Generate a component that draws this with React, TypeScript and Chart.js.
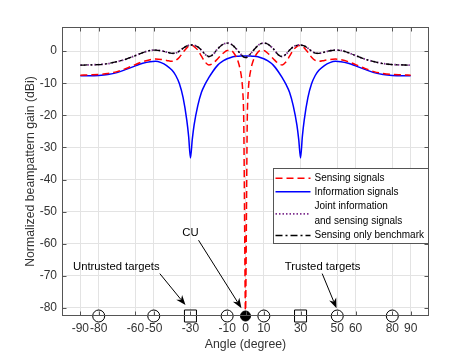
import React, { useEffect, useRef } from "react";
import { Chart, registerables } from "chart.js";

Chart.register(...registerables);

// ---------------- data ----------------
const angleDeg = [
  -90, -85, -80, -75, -70, -65, -60, -56, -52, -49, -46, -43, -40, -38, -36, -34, -32, -31, -30, -29,
  -28, -26, -24, -22, -20, -18, -15, -12, -10, -8, -6, -4, -3, -2, -1.5, -1, -0.8, -0.6, -0.4, -0.2,
  0,
  0.2, 0.4, 0.6, 0.8, 1, 1.5, 2, 3, 4, 6, 8, 10, 12, 15, 18, 20, 22, 24, 26, 28,
  29, 30, 31, 32, 34, 36, 38, 40, 43, 46, 49, 52, 56, 60, 65, 70, 75, 80, 85, 90,
];

const sensingGain = [
  -7.5, -7.4, -7.3, -7.0, -6.4, -5.4, -4.2, -3.3, -2.7, -2.5, -2.6, -2.9, -3.2, -2.9, -1.9, -0.4, 1.0, 1.5, 1.7, 1.7,
  1.4, 0.3, -1.6, -3.4, -4.3, -3.9, -2.3, -0.6, 0.2, 0.2, -0.9, -3.3, -5.5, -9, -12.5, -20, -30, -45, -60, -75,
  -82.5,
  -75, -60, -45, -30, -20, -12.5, -9, -5.5, -3.3, -0.9, 0.2, 0.2, -0.6, -2.3, -3.9, -4.3, -3.4, -1.6, 0.3, 1.4,
  1.7, 1.7, 1.5, 1.0, -0.4, -1.9, -2.9, -3.2, -2.9, -2.6, -2.5, -2.7, -3.3, -4.2, -5.4, -6.4, -7.0, -7.3, -7.4, -7.5,
];

const informationGain = [
  -7.7, -7.7, -7.6, -7.3, -6.7, -5.7, -4.6, -3.8, -3.3, -3.2, -3.6, -4.5, -6.0, -7.6, -10.2, -14.5, -21.5, -26.5, -33.3, -27.5,
  -23, -17, -12.8, -10.3, -8.3, -6.5, -4.3, -3.0, -2.4, -2.0, -1.7, -1.6, -1.55, -1.5, -1.5, -1.5, -1.5, -1.5, -1.5, -1.5,
  -1.5,
  -1.5, -1.5, -1.5, -1.5, -1.5, -1.5, -1.5, -1.55, -1.6, -1.7, -2.0, -2.4, -3.0, -4.3, -6.5, -8.3, -10.3, -12.8, -17, -23,
  -27.5, -33.3, -26.5, -21.5, -14.5, -10.2, -7.6, -6.0, -4.5, -3.6, -3.2, -3.3, -3.8, -4.6, -5.7, -6.7, -7.3, -7.6, -7.7, -7.7,
];

const jointGain = [
  -4.4, -4.3, -4.2, -3.9, -3.3, -2.5, -1.4, -0.5, 0.2, 0.3, 0.1, -0.3, -0.7, -0.6, 0.0, 0.9, 1.6, 1.8, 1.9, 1.9,
  1.8, 1.3, 0.3, -1.0, -1.7, -1.2, 0.8, 2.2, 2.5, 2.2, 1.3, 0.0, -0.7, -1.3, -1.6, -1.8, -1.9, -1.9, -2.0, -2.0,
  -2.0,
  -2.0, -2.0, -1.9, -1.9, -1.8, -1.6, -1.3, -0.7, 0.0, 1.3, 2.2, 2.5, 2.2, 0.8, -1.2, -1.7, -1.0, 0.3, 1.3, 1.8,
  1.9, 1.9, 1.8, 1.6, 0.9, 0.0, -0.6, -0.7, -0.3, 0.1, 0.3, 0.2, -0.5, -1.4, -2.5, -3.3, -3.9, -4.2, -4.3, -4.4,
];

const benchmarkGain = [
  -4.4, -4.3, -4.2, -3.9, -3.3, -2.5, -1.4, -0.5, 0.2, 0.3, 0.1, -0.3, -0.7, -0.6, 0.0, 0.9, 1.6, 1.8, 1.9, 1.9,
  1.8, 1.3, 0.3, -1.0, -1.7, -1.2, 0.8, 2.2, 2.5, 2.2, 1.3, 0.0, -0.7, -1.3, -1.6, -1.8, -1.9, -1.9, -2.0, -2.0,
  -2.0,
  -2.0, -2.0, -1.9, -1.9, -1.8, -1.6, -1.3, -0.7, 0.0, 1.3, 2.2, 2.5, 2.2, 0.8, -1.2, -1.7, -1.0, 0.3, 1.3, 1.8,
  1.9, 1.9, 1.8, 1.6, 0.9, 0.0, -0.6, -0.7, -0.3, 0.1, 0.3, 0.2, -0.5, -1.4, -2.5, -3.3, -3.9, -4.2, -4.3, -4.4,
];

const trustedTargetAngles = [-80, -50, -10, 10, 50, 80];
const untrustedTargetAngles = [-30, 30];
const cuAngles = [0];

const xTickValues = [-90, -80, -60, -50, -30, -10, 0, 10, 30, 50, 60, 80, 90];
const yTickValues = [-80, -70, -60, -50, -40, -30, -20, -10, 0];

const X_MIN = -100;
const X_MAX = 100;
const Y_MIN = -82.5;
const Y_MAX = 7.5;

const annotationTexts = ["CU", "Untrusted targets", "Trusted targets"];
const annotationTextPos = [
  [-30, -56.7],
  [-70.4, -67.3],
  [42, -67.3],
];
const annotationArrows = [
  [-25.6, -58.9, -2.2, -80.1],
  [-46.7, -69.3, -32.7, -79.1],
  [41.8, -69.3, 49.6, -80.1],
];

// ---------------- styles ----------------
const FONT = "'Liberation Sans', Arial, Helvetica, sans-serif";
const AXIS_COLOR = "#555555";
const TICK_TEXT = "#333333";
const GRID_COLOR = "#e3e3e3";

const W = 474;
const H = 355;

function drawArrow(ctx: CanvasRenderingContext2D, x1: number, y1: number, x2: number, y2: number) {
  const ang = Math.atan2(y2 - y1, x2 - x1);
  const len = 10;
  const half = 3.8;
  const back = 7;
  ctx.beginPath();
  ctx.moveTo(x1, y1);
  ctx.lineTo(x2 - Math.cos(ang) * back, y2 - Math.sin(ang) * back);
  ctx.stroke();
  const bx = x2 - Math.cos(ang) * len;
  const by = y2 - Math.sin(ang) * len;
  const nx = -Math.sin(ang);
  const ny = Math.cos(ang);
  ctx.beginPath();
  ctx.moveTo(x2, y2);
  ctx.lineTo(bx + nx * half, by + ny * half);
  ctx.lineTo(x2 - Math.cos(ang) * back, y2 - Math.sin(ang) * back);
  ctx.lineTo(bx - nx * half, by - ny * half);
  ctx.closePath();
  ctx.fill();
}

const matlabPlugin = {
  id: "matlabDecor",
  afterDatasetsDraw(chart: any) {
    const { ctx, chartArea: a } = chart;
    const xs = chart.scales.x;
    const ys = chart.scales.y;
    ctx.save();

    // box + inward ticks
    ctx.strokeStyle = AXIS_COLOR;
    ctx.lineWidth = 1;
    ctx.setLineDash([]);
    const L = Math.round(a.left) + 0.5;
    const R = Math.round(a.right) - 0.5;
    const T = Math.round(a.top) + 0.5;
    const B = Math.round(a.bottom) - 0.5;
    ctx.strokeRect(L, T, R - L, B - T);
    ctx.beginPath();
    for (const v of xTickValues) {
      const px = Math.round(xs.getPixelForValue(v)) + 0.5;
      ctx.moveTo(px, B);
      ctx.lineTo(px, B - 4);
      ctx.moveTo(px, T);
      ctx.lineTo(px, T + 4);
    }
    for (const v of yTickValues) {
      const py = Math.round(ys.getPixelForValue(v)) + 0.5;
      ctx.moveTo(L, py);
      ctx.lineTo(L + 4, py);
      ctx.moveTo(R, py);
      ctx.lineTo(R - 4, py);
    }
    ctx.stroke();

    // legend
    const lw = 155;
    const lh = 75;
    const lx = Math.round(a.right) - lw - 0.5;
    const ly = Math.round(a.top) + 141 + 0.5;
    ctx.fillStyle = "#ffffff";
    ctx.fillRect(lx, ly, lw, lh);
    ctx.strokeStyle = AXIS_COLOR;
    ctx.lineWidth = 1;
    ctx.strokeRect(lx, ly, lw, lh);
    const rows = [
      { ds: 0, lines: ["Sensing signals"], ys: [9.7], sy: 9.7 },
      { ds: 1, lines: ["Information signals"], ys: [23.3], sy: 23.3 },
      { ds: 2, lines: ["Joint information", "and sensing signals"], ys: [38, 52.3], sy: 45.3 },
      { ds: 3, lines: ["Sensing only benchmark"], ys: [67], sy: 67 },
    ];
    ctx.font = `10px ${FONT}`;
    ctx.textBaseline = "middle";
    ctx.textAlign = "left";
    for (const r of rows) {
      const ds = chart.data.datasets[r.ds];
      ctx.strokeStyle = ds.borderColor;
      ctx.lineWidth = ds.borderWidth;
      ctx.setLineDash(ds.borderDash || []);
      ctx.beginPath();
      ctx.moveTo(lx + 2, ly + r.sy);
      ctx.lineTo(lx + 37, ly + r.sy);
      ctx.stroke();
      ctx.setLineDash([]);
      ctx.fillStyle = "#000000";
      r.lines.forEach((t, i) => ctx.fillText(t, lx + 41, ly + r.ys[i]));
    }

    // annotations
    ctx.fillStyle = "#000000";
    ctx.strokeStyle = "#000000";
    ctx.lineWidth = 1;
    ctx.font = `11.3px ${FONT}`;
    ctx.textAlign = "center";
    ctx.textBaseline = "middle";
    annotationTexts.forEach((t, i) => {
      const [dx, dy] = annotationTextPos[i];
      ctx.fillText(t, xs.getPixelForValue(dx), ys.getPixelForValue(dy));
    });
    annotationArrows.forEach(([ax1, ay1, ax2, ay2]) => {
      drawArrow(
        ctx,
        xs.getPixelForValue(ax1),
        ys.getPixelForValue(ay1),
        xs.getPixelForValue(ax2),
        ys.getPixelForValue(ay2)
      );
    });

    ctx.restore();
  },
};

export default function App() {
  const ref = useRef<HTMLCanvasElement>(null);

  useEffect(() => {
    document.body.style.margin = "0";
    const toXY = (vals: number[]) => angleDeg.map((x, i) => ({ x, y: vals[i] }));
    const markers = (angles: number[]) => angles.map((x) => ({ x, y: Y_MIN }));

    const chart = new Chart(ref.current as HTMLCanvasElement, {
      type: "line",
      data: {
        datasets: [
          {
            label: "Sensing signals",
            data: toXY(sensingGain),
            borderColor: "#ff0000",
            borderWidth: 1.5,
            borderDash: [7, 4],
            pointRadius: 0,
            cubicInterpolationMode: "monotone",
            order: 3,
          },
          {
            label: "Information signals",
            data: toXY(informationGain),
            borderColor: "#0000ff",
            borderWidth: 1.5,
            pointRadius: 0,
            cubicInterpolationMode: "monotone",
            order: 4,
          },
          {
            label: "Joint information and sensing signals",
            data: toXY(jointGain),
            borderColor: "#7e2f8e",
            borderWidth: 1.8,
            borderDash: [1.5, 2],
            pointRadius: 0,
            cubicInterpolationMode: "monotone",
            order: 2,
          },
          {
            label: "Sensing only benchmark",
            data: toXY(benchmarkGain),
            borderColor: "#000000",
            borderWidth: 1.3,
            borderDash: [7, 3, 2, 3],
            pointRadius: 0,
            cubicInterpolationMode: "monotone",
            order: 1,
          },
          {
            label: "Trusted targets",
            data: markers(trustedTargetAngles),
            showLine: false,
            pointStyle: "circle",
            pointRadius: 6,
            pointBorderWidth: 1,
            pointBorderColor: "#000000",
            pointBackgroundColor: "rgba(0,0,0,0)",
            clip: false,
            order: 0,
          },
          {
            label: "Untrusted targets",
            data: markers(untrustedTargetAngles),
            showLine: false,
            pointStyle: "rect",
            pointRadius: 8.5,
            pointBorderWidth: 1,
            pointBorderColor: "#000000",
            pointBackgroundColor: "rgba(0,0,0,0)",
            clip: false,
            order: 0,
          },
          {
            label: "CU",
            data: markers(cuAngles),
            showLine: false,
            pointStyle: "circle",
            pointRadius: 5,
            pointBorderWidth: 1,
            pointBorderColor: "#000000",
            pointBackgroundColor: "#000000",
            clip: false,
            order: 0,
          },
        ] as any,
      },
      options: {
        responsive: false,
        animation: false,
        events: [],
        layout: { padding: { left: 0, top: 27, right: 45, bottom: 0 } },
        plugins: {
          legend: { display: false },
          tooltip: { enabled: false },
        },
        scales: {
          x: {
            type: "linear",
            min: X_MIN,
            max: X_MAX,
            afterBuildTicks: (s: any) => {
              s.ticks = xTickValues.map((v) => ({ value: v }));
            },
            afterFit: (s: any) => {
              s.height = 39;
            },
            ticks: {
              autoSkip: false,
              maxRotation: 0,
              padding: 5,
              color: TICK_TEXT,
              font: { family: FONT, size: 12 },
            },
            grid: { color: GRID_COLOR, drawTicks: false },
            border: { display: false },
            title: {
              display: true,
              text: "Angle (degree)",
              color: TICK_TEXT,
              font: { family: FONT, size: 12.3 },
              padding: { top: 0, bottom: 3 },
            },
          },
          y: {
            type: "linear",
            min: Y_MIN,
            max: Y_MAX,
            afterBuildTicks: (s: any) => {
              s.ticks = yTickValues.map((v) => ({ value: v }));
            },
            afterFit: (s: any) => {
              s.width = 62;
            },
            ticks: {
              autoSkip: false,
              padding: 5,
              color: TICK_TEXT,
              font: { family: FONT, size: 12 },
            },
            grid: { color: GRID_COLOR, drawTicks: false },
            border: { display: false },
            title: {
              display: true,
              text: "Normalized beampattern gain (dBi)",
              color: TICK_TEXT,
              font: { family: FONT, size: 12.3 },
              padding: { top: 23, bottom: 0 },
            },
          },
        },
      } as any,
      plugins: [matlabPlugin],
    });

    return () => chart.destroy();
  }, []);

  return (
    <div style={{ position: "absolute", left: 0, top: 0, width: W, height: H, background: "#ffffff" }}>
      <canvas ref={ref} width={W} height={H} style={{ display: "block", width: W, height: H }} />
    </div>
  );
}
